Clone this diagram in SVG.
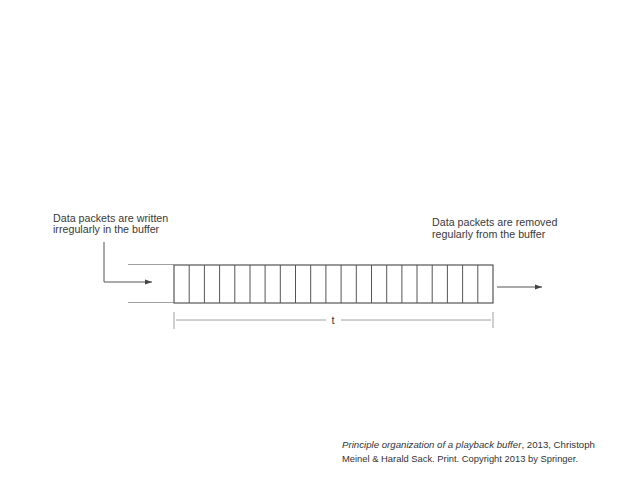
<svg xmlns="http://www.w3.org/2000/svg" width="638" height="493" viewBox="0 0 638 493">
<style>
.lbl{font-family:"Liberation Sans",Arial,sans-serif;font-size:10.7px;fill:#3a3a3a}
.cap{font-family:"Liberation Sans",Arial,sans-serif;font-size:9.8px;fill:#333}
.ln{stroke:#555;stroke-width:1;fill:none}
.thin{stroke:#888;stroke-width:0.8;fill:none}
</style>
<defs>
<marker id="ah" markerWidth="8" markerHeight="6" refX="7" refY="3" orient="auto" markerUnits="userSpaceOnUse">
<path d="M0,0.5 L7,3 L0,5.5 Z" fill="#444"/>
</marker>
</defs>
<rect width="638" height="493" fill="#fff"/>
<g id="label-in">
<text class="lbl" x="53" y="222">Data packets are written</text>
<text class="lbl" x="53" y="233">irregularly in the buffer</text>
</g>
<g id="label-out">
<text class="lbl" x="432" y="226">Data packets are removed</text>
<text class="lbl" x="432" y="238">regularly from the buffer</text>
</g>
<g id="buffer">
<rect x="174" y="265" width="319" height="38" fill="#fff" stroke="#555" stroke-width="1.2"/>
<g class="ln">
<path d="M189.2,265V303M204.4,265V303M219.6,265V303M234.8,265V303M250,265V303M265.1,265V303M280.3,265V303M295.5,265V303M310.7,265V303M325.9,265V303M341.1,265V303M356.3,265V303M371.5,265V303M386.7,265V303M401.9,265V303M417,265V303M432.2,265V303M447.4,265V303M462.6,265V303M477.8,265V303"/>
</g>
</g>
<g id="connectors">
<path class="thin" d="M128,264.5H174M128,302.5H174"/>
<path class="ln" d="M104,242V282H152" marker-end="url(#ah)"/>
<path class="ln" d="M497,287H542" marker-end="url(#ah)"/>
<path class="thin" d="M174,312V329M493,312V328"/>
<path class="thin" d="M176,320H326M341,320H491"/>
<text class="lbl" x="333" y="324" text-anchor="middle" style="font-size:11px">t</text>
</g>
<g id="caption">
<text class="cap" x="342" y="448" textLength="253" lengthAdjust="spacingAndGlyphs"><tspan font-style="italic">Principle organization of a playback buffer</tspan>, 2013, Christoph</text>
<text class="cap" x="342" y="462" textLength="236" lengthAdjust="spacingAndGlyphs">Meinel &amp; Harald Sack. Print. Copyright 2013 by Springer.</text>
</g>
</svg>
